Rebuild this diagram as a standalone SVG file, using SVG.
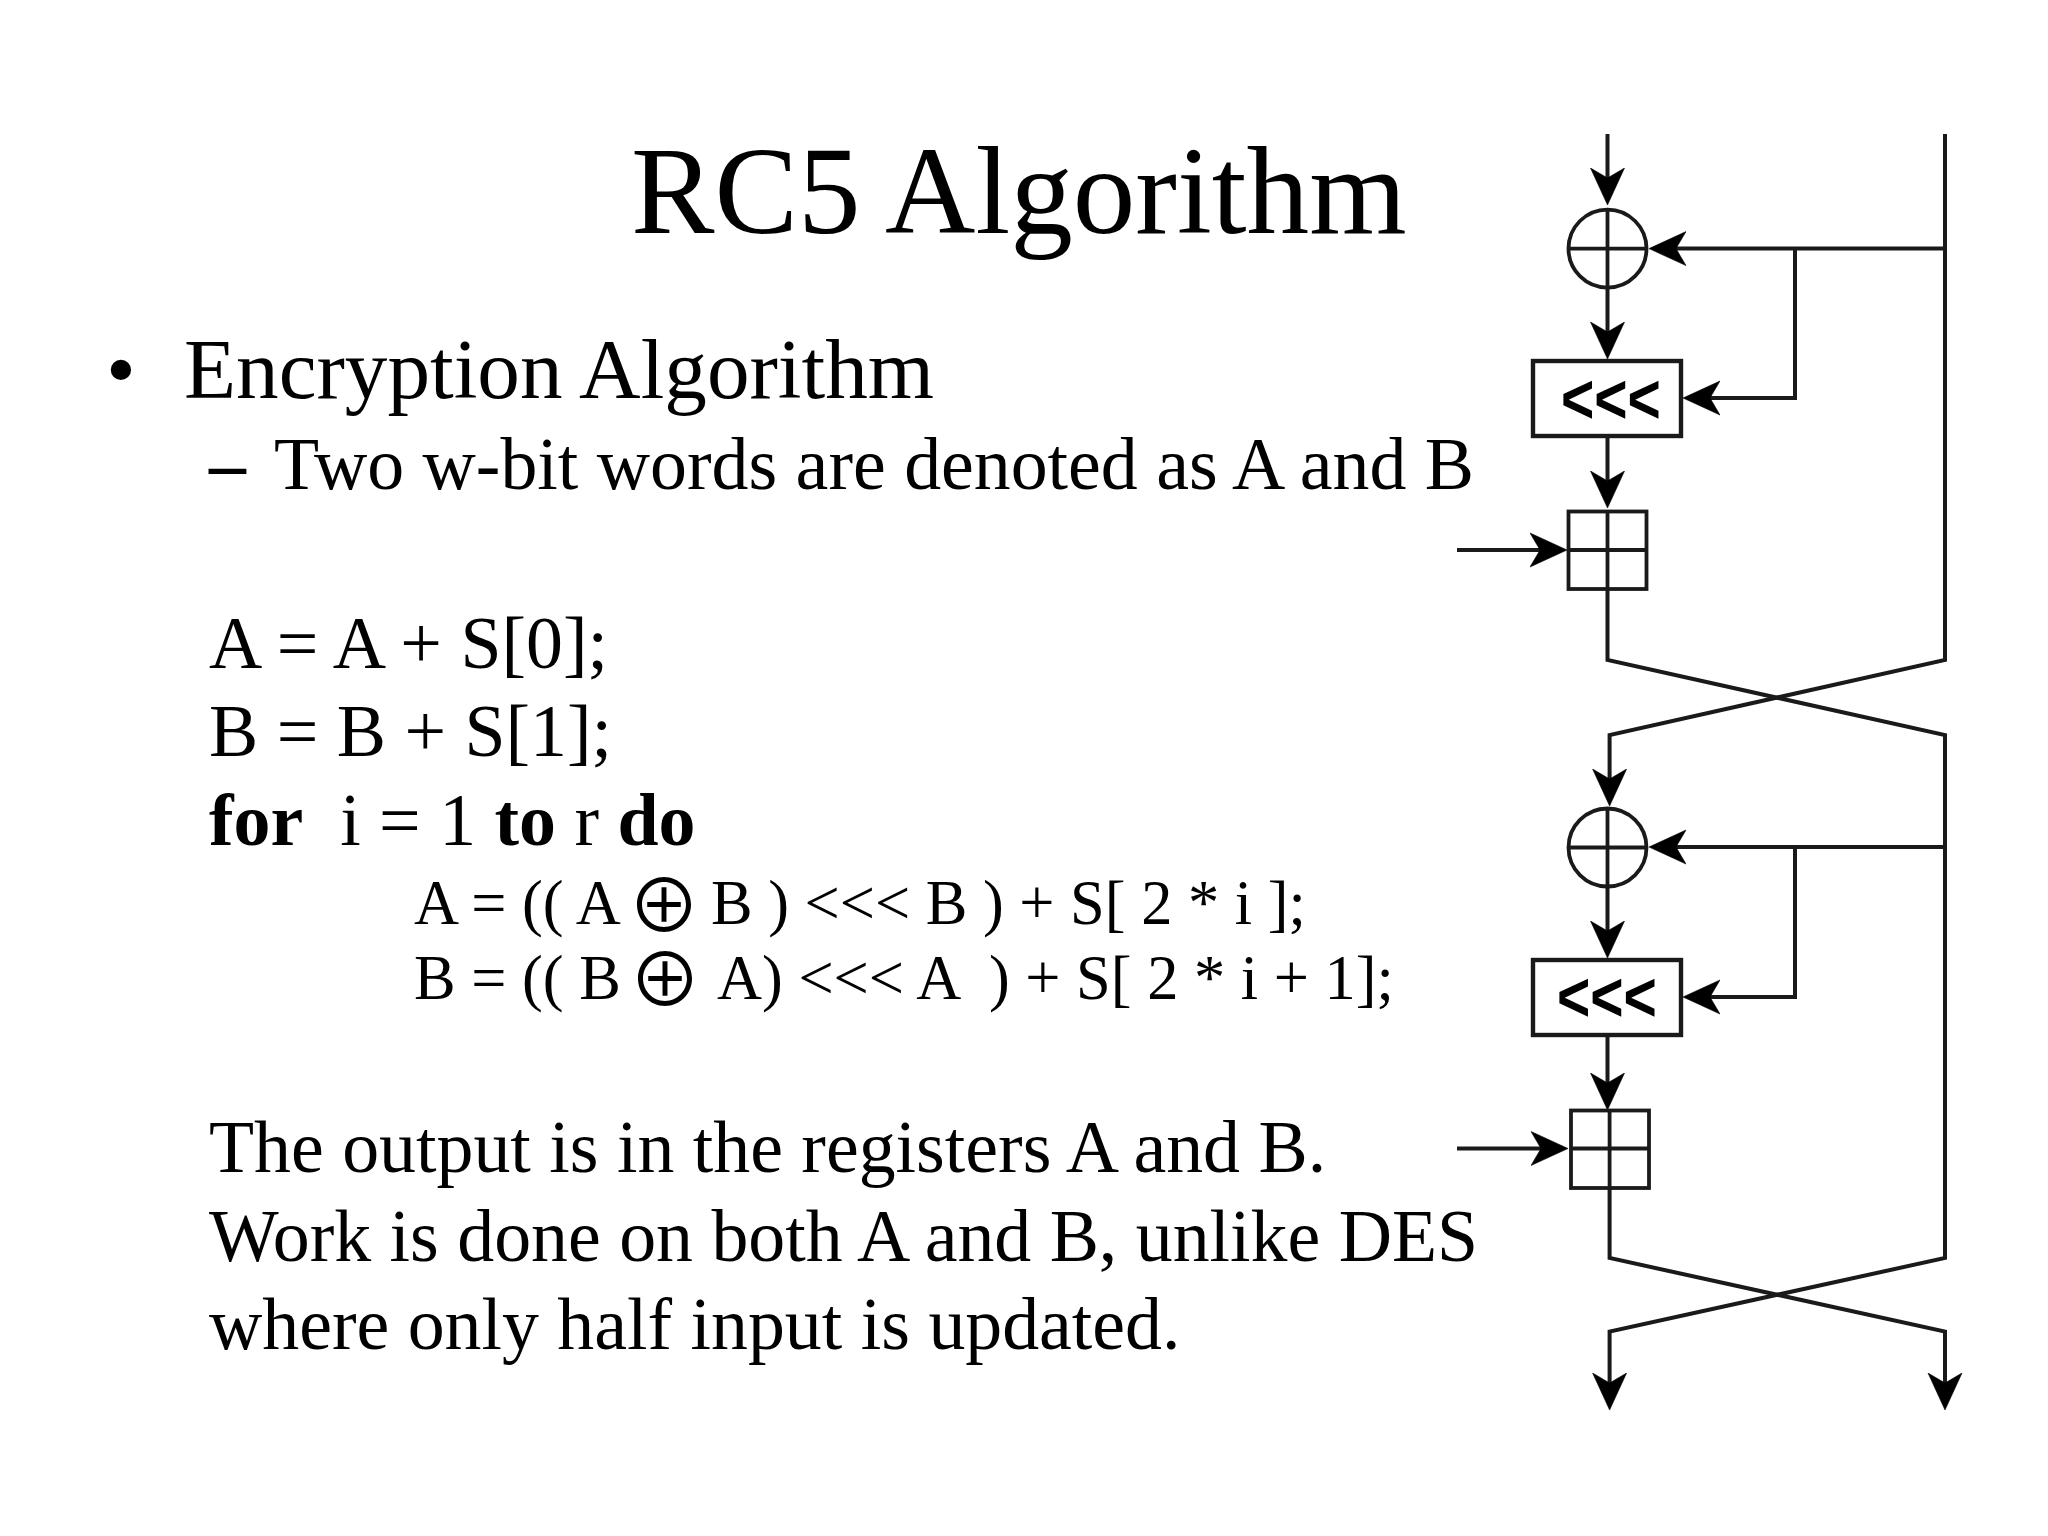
<svg xmlns="http://www.w3.org/2000/svg" width="2048" height="1536" viewBox="0 0 2048 1536">
<style>
text{font-family:"Liberation Serif","Times New Roman",serif;fill:#000;white-space:pre}
.c{fill:none;stroke:#1a1a1a;stroke-width:4;stroke-linejoin:miter}
.n{fill:none;stroke:#1a1a1a;stroke-width:3.8}
.b{fill:#fff;stroke:#1a1a1a;stroke-width:4.4}
.r{font-family:"Liberation Sans",Arial,sans-serif;font-weight:700;font-size:57px}
.t2{font-size:73.8px}.t4{font-size:62.4px}
.x{font-family:"Noto Sans CJK SC","DejaVu Sans",sans-serif;font-size:73px}
</style>
<defs>
<marker id="a" markerUnits="userSpaceOnUse" markerWidth="38" markerHeight="36" refX="31" refY="18" orient="auto"><path d="M37,18 L0,1 L10,18 L0,35Z" fill="#000" stroke="#000" stroke-width="0.6"/></marker>
</defs>
<rect width="2048" height="1536" fill="#fff"/>
<g id="slide-text">
<text x="631" y="232.5" font-size="125.2">RC5 Algorithm</text>
<text x="106" y="398" font-size="85.2">•</text>
<text x="184" y="398" font-size="85.2">Encryption Algorithm</text>
<text x="209" y="489" class="t2" font-weight="700">–</text>
<text x="274" y="489" class="t2">Two w-bit words are denoted as A and B</text>
<text x="209" y="667.5" class="t2">A = A + S[0];</text>
<text x="209" y="755.5" class="t2">B = B + S[1];</text>
<text x="209" y="844.5" class="t2"><tspan font-weight="700">for</tspan>  i = 1 <tspan font-weight="700">to</tspan> r <tspan font-weight="700">do</tspan></text>
<text y="924" class="t4"><tspan x="414">A = (( A</tspan><tspan x="627.5" y="931.5" class="x">⊕</tspan><tspan x="711" y="924">B ) &lt;&lt;&lt; B ) + S[ 2 * i ];</tspan></text>
<text y="999" class="t4"><tspan x="414">B = (( B</tspan><tspan x="628.5" y="1006" class="x">⊕</tspan><tspan x="717" y="999">A) &lt;&lt;&lt; A  ) + S[ 2 * i + 1];</tspan></text>
<text x="209" y="1172" class="t2">The output is in the registers A and B.</text>
<text x="209" y="1261" class="t2">Work is done on both A and B, unlike DES</text>
<text x="209" y="1349" class="t2">where only half input is updated.</text>
</g>
<g id="connectors">
<path class="c" d="M1607.5,134V199" marker-end="url(#a)"/>
<path class="c" d="M1945,134V660L1609.6,735V800" marker-end="url(#a)"/>
<path class="c" d="M1945,248.6H1655" marker-end="url(#a)"/>
<path class="c" d="M1795,248.6V398H1689" marker-end="url(#a)"/>
<path class="c" d="M1607.5,287V353" marker-end="url(#a)"/>
<path class="c" d="M1607.5,436V502" marker-end="url(#a)"/>
<path class="c" d="M1457,550H1561" marker-end="url(#a)"/>
<path class="c" d="M1607.5,589V660L1945,735V1258L1609.6,1331.5V1404" marker-end="url(#a)"/>
<path class="c" d="M1945,847H1655" marker-end="url(#a)"/>
<path class="c" d="M1795,847V997H1689" marker-end="url(#a)"/>
<path class="c" d="M1607.5,886V952" marker-end="url(#a)"/>
<path class="c" d="M1607.5,1035V1104" marker-end="url(#a)"/>
<path class="c" d="M1457,1148.5H1562" marker-end="url(#a)"/>
<path class="c" d="M1609.6,1188V1258L1945,1331.5V1404" marker-end="url(#a)"/>
</g>
<g id="xor-1"><circle class="n" cx="1607.5" cy="248.6" r="39"/><path class="n" d="M1568.5,248.6H1646.5M1607.5,209.6V287.6"/></g>
<g id="rotate-1"><rect class="b" x="1533" y="361" width="148" height="75"/><text class="r" transform="translate(1561,423) scale(1,1.25)">&lt;&lt;&lt;</text></g>
<g id="add-1"><rect class="n" x="1568.5" y="511.5" width="78" height="77.5"/><path class="n" d="M1568.5,550H1646.5M1607.5,511.5V589"/></g>
<g id="xor-2"><circle class="n" cx="1607.5" cy="847.5" r="39"/><path class="n" d="M1568.5,847.5H1646.5M1607.5,808.5V886.5"/></g>
<g id="rotate-2"><rect class="b" x="1533" y="960" width="148" height="75"/><text class="r" transform="translate(1557,1021) scale(1,1.25)">&lt;&lt;&lt;</text></g>
<g id="add-2"><rect class="n" x="1571" y="1110.5" width="78" height="77.5"/><path class="n" d="M1571,1148.5H1649M1609.6,1110.5V1188"/></g>
</svg>
